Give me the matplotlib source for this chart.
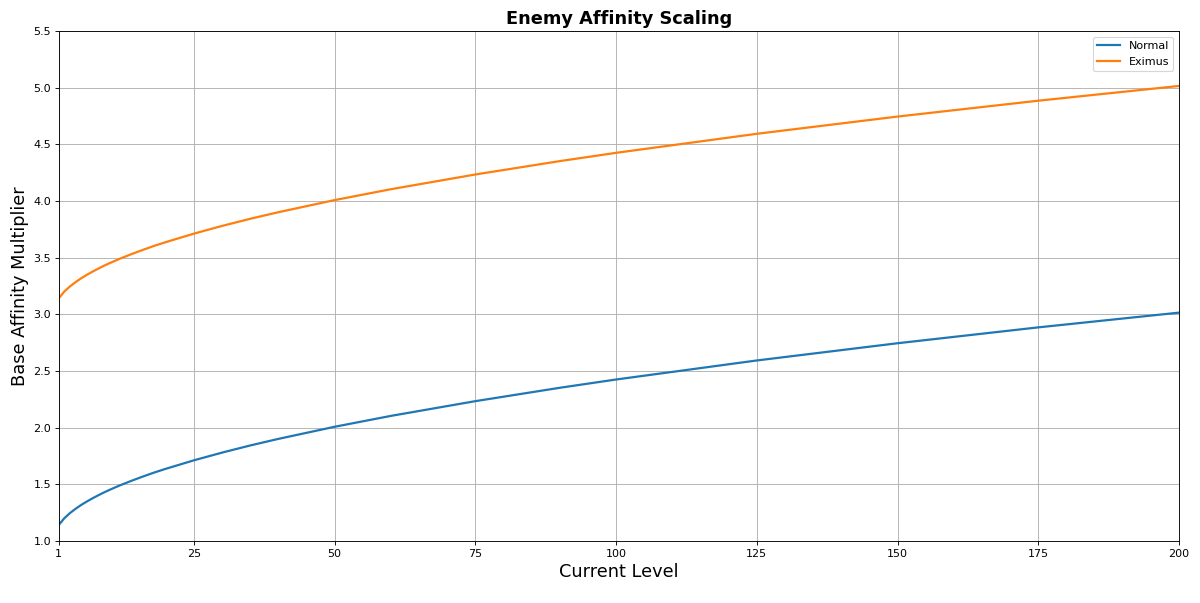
import matplotlib
matplotlib.use("Agg")
import matplotlib.pyplot as plt

# values
levels = [1, 2, 3, 4, 5, 6, 7, 8, 9, 10, 12, 14, 16, 18, 20, 25, 30, 35, 40, 50, 60, 75,
          90, 100, 125, 150, 175, 200]
normal = [1.142, 1.202, 1.247, 1.285, 1.319, 1.349, 1.377, 1.403, 1.428, 1.451, 1.494, 1.533,
          1.570, 1.605, 1.637, 1.712, 1.780, 1.843, 1.901, 2.008, 2.104, 2.234, 2.352, 2.425,
          2.593, 2.745, 2.885, 3.015]
eximus = [3.142, 3.202, 3.247, 3.285, 3.319, 3.349, 3.377, 3.403, 3.428, 3.451, 3.494, 3.533,
          3.570, 3.605, 3.637, 3.712, 3.780, 3.843, 3.901, 4.008, 4.104, 4.234, 4.352, 4.425,
          4.593, 4.745, 4.885, 5.015]
xticks = [1, 25, 50, 75, 100, 125, 150, 175, 200]

fig, ax = plt.subplots(figsize=(15, 7.5375), dpi=80)
ax.plot(levels, normal, color='#1f77b4', lw=2, label='Normal')
ax.plot(levels, eximus, color='#ff7f0e', lw=2, label='Eximus')

ax.set_xlim(1, 200)
ax.set_ylim(1.0, 5.5)
ax.set_xticks(xticks)
ax.set_title('Enemy Affinity Scaling', fontsize=16, fontweight='bold')
ax.set_xlabel('Current Level', fontsize=16)
ax.set_ylabel('Base Affinity Multiplier', fontsize=16)
ax.grid(True)
ax.legend(loc='upper right')

fig.subplots_adjust(left=0.049, right=0.9825, top=0.9486, bottom=0.1028)
fig.savefig('out.png')
